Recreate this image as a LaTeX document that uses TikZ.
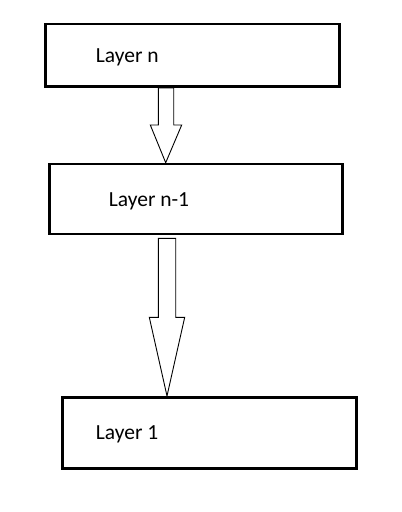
\documentclass[tikz,border=0pt]{standalone}
\usepackage{fontspec}
\setmainfont{Carlito}
\usetikzlibrary{calc}
\begin{document}
\begin{tikzpicture}[x=1pt,y=-1pt,
  layerbox/.style={draw,line width=2.7pt,inner sep=0pt,outer sep=0pt,anchor=north west},
  layertext/.style={anchor=base west,inner sep=0pt,font=\fontsize{21.5}{24}\selectfont},
  blockarrow/.style={draw,line width=0.9pt,fill=white,line join=miter}]
\useasboundingbox (0,0) rectangle (402,512);
\fill[white] (0,0) rectangle (402,512);
% boxes
\node[layerbox,minimum width=294.4pt,minimum height=62.3pt] (b1) at (45.3,24) {};
\node[layerbox,minimum width=293.1pt,minimum height=70pt] (b2) at (49.7,164) {};
\node[layerbox,minimum width=293.9pt,minimum height=71.4pt] (b3) at (62.3,397.3) {};
% texts
\node[layertext] (t1) at (95.7,62.3) {Layer n};
\node[layertext] (t2) at (108.7,206) {Layer n-1};
\node[layertext] (t3) at (95.7,439) {Layer 1};
% arrow 1
\coordinate (a1top) at (166,88);
\coordinate (a1tip) at (165.7,162.7);
\draw[blockarrow] ($(a1top)+(-7.7,0)$) -- ($(a1top)+(-7.7,37)$) -- ($(a1top)+(-15.7,37)$) -- (a1tip)
  -- ($(a1top)+(15.7,37)$) -- ($(a1top)+(7.7,37)$) -- ($(a1top)+(7.7,0)$) -- cycle;
% arrow 2
\coordinate (a2top) at (167,238.3);
\coordinate (a2tip) at (167,396);
\draw[blockarrow] ($(a2top)+(-8.7,0)$) -- ($(a2top)+(-8.7,79)$) -- ($(a2top)+(-17.7,79)$) -- (a2tip)
  -- ($(a2top)+(17.7,79)$) -- ($(a2top)+(8.7,79)$) -- ($(a2top)+(8.7,0)$) -- cycle;
\end{tikzpicture}
\end{document}
